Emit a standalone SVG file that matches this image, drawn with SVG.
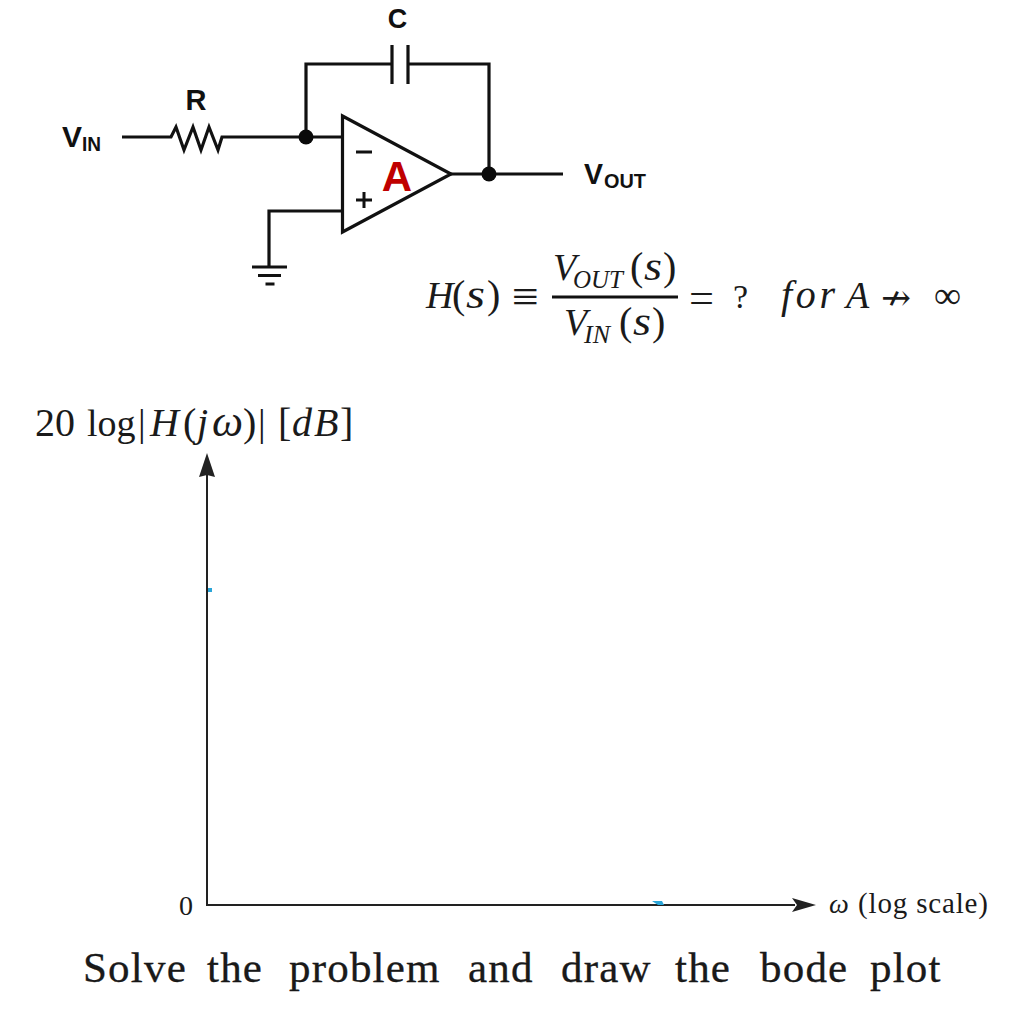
<svg xmlns="http://www.w3.org/2000/svg" width="1024" height="1010" viewBox="0 0 1024 1010">
<style>
.w{fill:none;stroke:#111;stroke-width:3.2;stroke-linejoin:miter}
.d{fill:#0a0a0a}
.b{font-family:"Liberation Sans",Arial,sans-serif;font-weight:700;fill:#111}
.m{font-family:"Liberation Serif","Times New Roman",serif;font-style:italic;fill:#1a1a1a}
.u{font-family:"Liberation Serif","Times New Roman",serif;fill:#1a1a1a}
.s{font-family:"DejaVu Serif",serif;fill:#1a1a1a}
.ax{fill:none;stroke:#222;stroke-width:2}
</style>
<rect width="1024" height="1010" fill="#fff"/>
<g id="connectors">
<path class="w" d="M122 137H171L176 127L184 150L193 127L201 150L209 127L218 150L222 137H342"/>
<path class="w" d="M306 137V64H392M408 64H489V174"/>
<path class="w" d="M451 174H563"/>
<path class="w" d="M342 211H269V267"/>
</g>
<g id="capacitor"><path class="w" d="M392 45V84M408 45V84"/></g>
<g id="ground"><path class="w" d="M252 267H287M258 275.5H281M265.5 284H274.5"/></g>
<g id="opamp">
<path class="w" d="M342.500 116V232L451 174Z" style="fill:#fff"/>
<path class="w" d="M356 152H372M356 200H372M364 192V208" style="stroke-width:3"/>
<text x="397" y="191" text-anchor="middle" class="b" font-size="42" style="fill:#c00000">A</text>
</g>
<g id="node-in"><circle class="d" cx="306" cy="137" r="7.500"/></g>
<g id="node-out"><circle class="d" cx="489" cy="174" r="7.500"/></g>
<g id="labels">
<text x="397.500" y="28" text-anchor="middle" class="b" font-size="27">C</text>
<text x="196" y="110" text-anchor="middle" class="b" font-size="29">R</text>
<text class="b" x="62" y="147" font-size="30" textLength="20" lengthAdjust="spacingAndGlyphs">V</text>
<text class="b" x="82" y="151" font-size="20" textLength="19" lengthAdjust="spacingAndGlyphs">IN</text>
<text class="b" x="584" y="184" font-size="30" textLength="19" lengthAdjust="spacingAndGlyphs">V</text>
<text class="b" x="604" y="188" font-size="20" textLength="42" lengthAdjust="spacingAndGlyphs">OUT</text>
</g>
<g id="equation">
<text class="m" x="426" y="308" font-size="38">H</text>
<text class="u" x="452" y="308" font-size="40">(</text>
<text class="m" x="466" y="308" font-size="40" textLength="19" lengthAdjust="spacingAndGlyphs">s</text>
<text class="u" x="487" y="308" font-size="40">)</text>
<text class="u" x="512" y="312" font-size="46" textLength="27" lengthAdjust="spacingAndGlyphs">≡</text>
<rect x="552" y="295.500" width="126" height="3" fill="#111"/>
<text class="m" x="553" y="280" font-size="38">V</text>
<text class="m" x="573" y="288" font-size="26" textLength="50" lengthAdjust="spacingAndGlyphs">OUT</text>
<text class="u" x="630" y="280" font-size="40">(</text>
<text class="m" x="644" y="280" font-size="40" textLength="18" lengthAdjust="spacingAndGlyphs">s</text>
<text class="u" x="663" y="280" font-size="40">)</text>
<text class="m" x="564" y="335" font-size="38">V</text>
<text class="m" x="584" y="343" font-size="26">IN</text>
<text class="u" x="619" y="335" font-size="40">(</text>
<text class="m" x="633" y="335" font-size="40" textLength="18" lengthAdjust="spacingAndGlyphs">s</text>
<text class="u" x="652" y="335" font-size="40">)</text>
<text class="u" x="689" y="312" font-size="42" textLength="25" lengthAdjust="spacingAndGlyphs">=</text>
<text class="u" x="733" y="308" font-size="34">?</text>
<text class="m" x="781" y="308" font-size="40" textLength="54">for</text>
<text class="m" x="846" y="308" font-size="38">A</text>
<text class="s" x="881" y="310" font-size="36" textLength="30" lengthAdjust="spacingAndGlyphs">↛</text>
<text class="u" x="934" y="308" font-size="38">∞</text>
</g>
<g id="plot">
<text class="u" x="35" y="436" font-size="40">20</text>
<text class="u" x="87" y="436" font-size="38">log</text>
<text class="u" x="138" y="436" font-size="38">|</text>
<text class="m" x="150" y="436" font-size="40">H</text>
<text class="u" x="183" y="436" font-size="40">(</text>
<text class="m" x="197" y="436" font-size="40">j</text>
<text class="m" x="212" y="436" font-size="44">ω</text>
<text class="u" x="243" y="436" font-size="40">)</text>
<text class="u" x="258" y="436" font-size="38">|</text>
<text class="u" x="278" y="436" font-size="40">[</text>
<text class="m" x="292" y="436" font-size="40">d</text>
<text class="m" x="314" y="436" font-size="40">B</text>
<text class="u" x="340" y="436" font-size="40">]</text>
<path class="ax" d="M207 470V905H795"/>
<path fill="#222" d="M207 453L215 477L207 475L199 477Z"/>
<path fill="#222" d="M816 905L792 898L797 905L792 912Z"/>
<path fill="#2aa5d8" d="M208 588H212V592H208ZM652 901H662L664 905H658Z"/>
<text class="u" x="179" y="915" font-size="28">0</text>
<text class="m" x="829" y="913" font-size="28">ω</text>
<text class="u" x="858" y="913" font-size="29" textLength="130">(log scale)</text>
<text class="u" y="982" font-size="43" stroke="#111" stroke-width="0.3" letter-spacing="1.2"><tspan x="83">Solve</tspan> <tspan x="207">the</tspan> <tspan x="289">problem</tspan> <tspan x="468">and</tspan> <tspan x="561">draw</tspan> <tspan x="675">the</tspan> <tspan x="760">bode</tspan> <tspan x="870">plot</tspan></text>
</g>
</svg>
